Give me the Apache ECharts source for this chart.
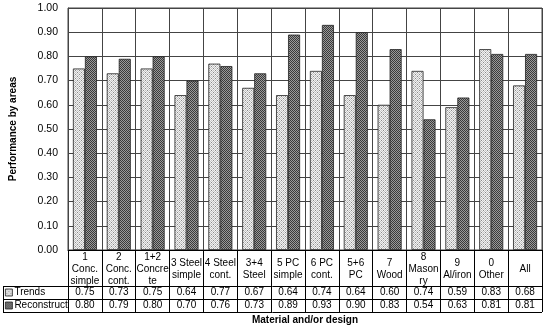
<!DOCTYPE html>
<html><head><meta charset="utf-8">
<script src="https://cdn.jsdelivr.net/npm/echarts@6/dist/echarts.min.js"></script>
<style>html,body{margin:0;padding:0;background:#fff}#c{width:550px;height:329px}</style>
</head><body><div id="c"></div>
<script>
const categories = ["1\nConc.\nsimple","2\nConc.\ncont.","1+2\nConcre\nte","3 Steel\nsimple","4 Steel\ncont.","3+4\nSteel","5 PC\nsimple","6 PC\ncont.","5+6\nPC","7\nWood","8\nMason\nry","9\nAl/iron","0\nOther","All"];
const trends = [0.75,0.73,0.75,0.64,0.77,0.67,0.64,0.74,0.64,0.60,0.74,0.59,0.83,0.68];
const reconstruct = [0.80,0.79,0.80,0.70,0.76,0.73,0.89,0.93,0.90,0.83,0.54,0.63,0.81,0.81];
const yTicks = {min:0, max:1, interval:0.1};

function makePattern(size, fn){
  const c = document.createElement('canvas'); c.width = size; c.height = size;
  const g = c.getContext('2d');
  for(let y=0;y<size;y++)for(let x=0;x<size;x++){g.fillStyle=fn(x,y);g.fillRect(x,y,1,1);}
  return c;
}
const patTrends = makePattern(4,(x,y)=>((x+y)%2===0)?'#f2f2f2':((x%4===1&&y%4===0)||(x%4===3&&y%4===2)?'#8a8a8a':'#c4c4c4'));
const patRecon = makePattern(4,(x,y)=>((x+y)%2===0)?'#3a3a3a':((x%4===0&&y%4===0)||(x%4===2&&y%4===2)?'#e0e0e0':'#9a9a9a'));

const font = 'Liberation Sans, Arial, sans-serif';
const chart = echarts.init(document.getElementById('c'), null, {renderer:'canvas'});
const L = 68, R = 542, T = 8, B = 250;
const LH = 12;
const FS = 10;
const catData = categories.map(c=>{
  const n = c.split('\n').length;
  return {value:c, textStyle:{padding:[(3-n)*LH/2,0,0,0]}};
});
const tableLines = [286,299,312].map(y=>({type:'line',shape:{x1:3,y1:y+0.5,x2:R,y2:y+0.5},style:{stroke:'#000',lineWidth:1},silent:true}));
tableLines.push({type:'line',shape:{x1:3.5,y1:286,x2:3.5,y2:312.5},style:{stroke:'#000',lineWidth:1},silent:true});

chart.setOption({
  animation:false,
  textStyle:{fontFamily:font},
  grid:{left:L,right:550-R,top:T,bottom:329-B,show:true,borderColor:'#444',borderWidth:1,outerBoundsMode:'none',containLabel:false},
  legend:{orient:'vertical',left:5,top:286,padding:0,itemWidth:7,itemHeight:7,itemGap:0,icon:'rect',
    textStyle:{fontSize:FS,color:'#000',lineHeight:13,padding:[0,0,0,-3]},
    itemStyle:{borderColor:'#222',borderWidth:0.8},
    data:['Trends','Reconstruct']},
  xAxis:[
    {type:'category',data:catData,gridIndex:0,position:'bottom',
     axisLine:{lineStyle:{color:'#000'}},
     axisTick:{show:true,length:62,interval:0,lineStyle:{color:'#000'}},
     splitLine:{show:true,interval:0,lineStyle:{color:'#444'}},
     axisLabel:{interval:0,fontSize:FS,color:'#000',lineHeight:LH,margin:1,verticalAlign:'top',fontFamily:font},
     name:'Material and/or design',nameLocation:'middle',nameGap:65,
     nameTextStyle:{fontSize:10,fontWeight:'bold',color:'#000',fontFamily:font}},
    {type:'category',data:categories,gridIndex:0,position:'bottom',offset:36,
     axisLine:{show:false},axisTick:{show:false},
     axisLabel:{interval:0,fontSize:FS,color:'#000',margin:6.5,verticalAlign:'middle',fontFamily:font,
       formatter:(v,i)=>trends[i].toFixed(2)}},
    {type:'category',data:categories,gridIndex:0,position:'bottom',offset:49,
     axisLine:{show:false},axisTick:{show:false},
     axisLabel:{interval:0,fontSize:FS,color:'#000',margin:6.5,verticalAlign:'middle',fontFamily:font,
       formatter:(v,i)=>reconstruct[i].toFixed(2)}}
  ],
  yAxis:{type:'value',min:yTicks.min,max:yTicks.max,interval:yTicks.interval,
    axisLine:{show:true,lineStyle:{color:'#444'}},axisTick:{show:false},
    splitLine:{show:true,lineStyle:{color:'#444'}},
    axisLabel:{fontSize:10.5,color:'#000',margin:10,formatter:v=>v.toFixed(2),fontFamily:font},
    name:'Performance by areas',nameLocation:'middle',nameGap:50,
    nameTextStyle:{fontSize:10,fontWeight:'bold',color:'#000',fontFamily:font}},
  series:[
    {name:'Trends',type:'bar',xAxisIndex:0,data:trends,barWidth:12,barGap:'0%',
     itemStyle:{color:{image:patTrends,repeat:'repeat'},borderColor:'#222',borderWidth:0.8}},
    {name:'Reconstruct',type:'bar',xAxisIndex:0,data:reconstruct,barWidth:12,barGap:'0%',
     itemStyle:{color:{image:patRecon,repeat:'repeat'},borderColor:'#222',borderWidth:0.8}}
  ],
  graphic:tableLines
});
</script></body></html>
